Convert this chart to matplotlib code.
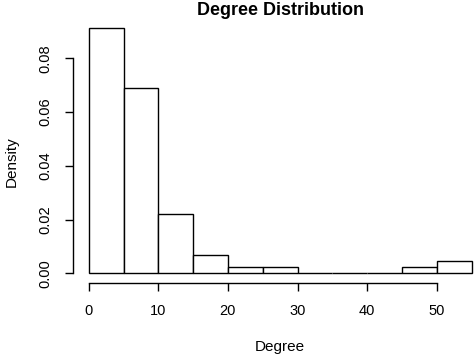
import matplotlib
matplotlib.use("Agg")
import matplotlib.pyplot as plt

bin_edges = [0, 5, 10, 15, 20, 25, 30, 35, 40, 45, 50, 55]
densities = [0.0911, 0.0689, 0.0222, 0.00667, 0.00222, 0.00222, 0, 0, 0, 0.00222, 0.00444]
x_ticks = [0, 10, 20, 30, 40, 50]
y_ticks = [0.00, 0.02, 0.04, 0.06, 0.08]
y_tick_labels = ["0.00", "0.02", "0.04", "0.06", "0.08"]

plt.rcParams['font.family'] = ['Liberation Sans', 'DejaVu Sans']

fig = plt.figure(figsize=(4.74, 3.55), dpi=100)
ax = fig.add_axes([0.1549, 0.2028, 0.8722, 0.7445])

widths = [bin_edges[i + 1] - bin_edges[i] for i in range(len(densities))]
ax.bar(bin_edges[:-1], densities, width=widths, align='edge',
       facecolor='white', edgecolor='black', linewidth=1.0)

ax.set_xlim(-2.2, 57.2)
ax.set_ylim(-0.0036, 0.0947)

for s in ['top', 'right']:
    ax.spines[s].set_visible(False)
ax.spines['left'].set_bounds(0, 0.08)
ax.spines['bottom'].set_bounds(0, 50)
ax.spines['left'].set_linewidth(1.0)
ax.spines['bottom'].set_linewidth(1.0)

ax.set_xticks(x_ticks)
ax.set_yticks(y_ticks)
ax.set_yticklabels(y_tick_labels, rotation=90, va='center')
ax.tick_params(axis='both', direction='out', length=6, width=1.0, labelsize=10.5, colors='black')
ax.tick_params(axis='x', pad=9)
ax.tick_params(axis='y', pad=9)

fig.text(0.591, 0.970, "Degree Distribution", ha='center', va='center',
         fontsize=13, fontweight='bold')
fig.text(0.591, 0.023, "Degree", ha='center', va='center', fontsize=11)
fig.text(0.024, 0.545, "Density", ha='center', va='center', fontsize=11, rotation=90)

fig.savefig("out.png", dpi=100)
